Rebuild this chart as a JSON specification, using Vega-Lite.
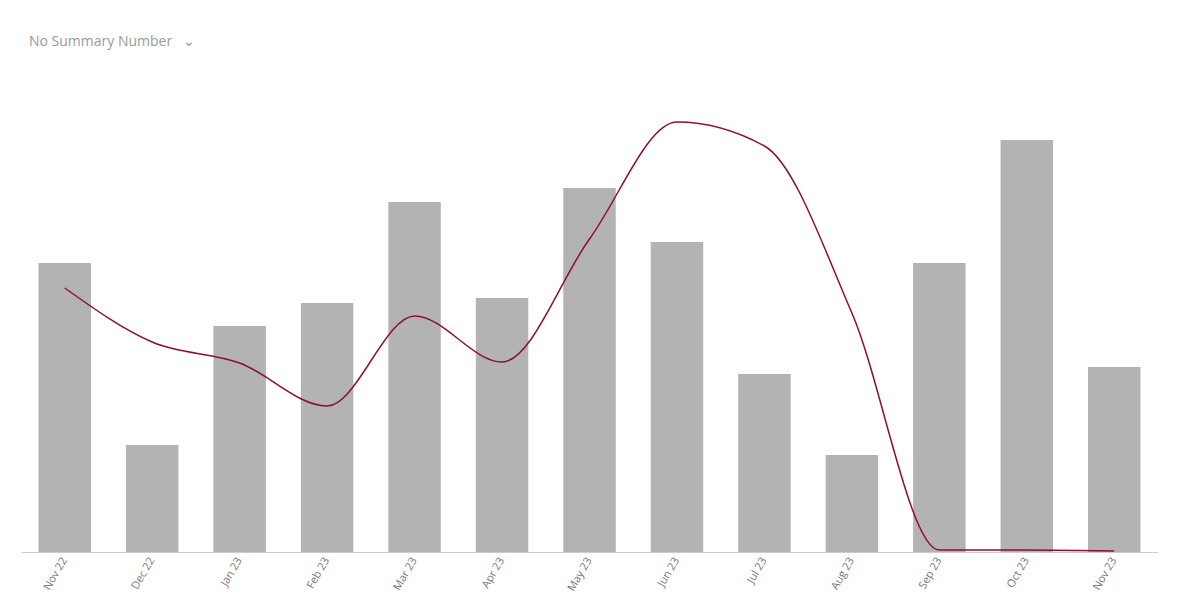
{
  "$schema": "https://vega.github.io/schema/vega-lite/v6.json",
  "width": 1137,
  "height": 472,
  "autosize": {"type": "none"},
  "padding": {"left": 21, "top": 80, "right": 27, "bottom": 56},
  "background": "white",
  "title": {
    "text": "No Summary Number\u00a0\u00a0\u00a0⌄",
    "anchor": "start",
    "dx": 8,
    "offset": 31,
    "font": "Open Sans",
    "fontSize": 14,
    "fontWeight": "normal",
    "color": "#9a9a9a"
  },
  "config": {"view": {"stroke": null}},
  "data": {
    "values": [
      {"month": "Nov 22", "bar": 289, "line": 264},
      {"month": "Dec 22", "bar": 107, "line": 210},
      {"month": "Jan 23", "bar": 226, "line": 189},
      {"month": "Feb 23", "bar": 249, "line": 146},
      {"month": "Mar 23", "bar": 350, "line": 236},
      {"month": "Apr 23", "bar": 254, "line": 190},
      {"month": "May 23", "bar": 364, "line": 313},
      {"month": "Jun 23", "bar": 310, "line": 430},
      {"month": "Jul 23", "bar": 178, "line": 406},
      {"month": "Aug 23", "bar": 97, "line": 239},
      {"month": "Sep 23", "bar": 289, "line": 2},
      {"month": "Oct 23", "bar": 412, "line": 2},
      {"month": "Nov 23", "bar": 185, "line": 1}
    ]
  },
  "encoding": {
    "x": {
      "field": "month",
      "type": "nominal",
      "sort": null,
      "scale": {"paddingInner": 0.4, "paddingOuter": 0.2},
      "axis": {
        "title": null,
        "labelAngle": -60,
        "labelFont": "Open Sans",
        "labelFontSize": 11,
        "labelColor": "#777777",
        "labelPadding": 6,
        "ticks": false,
        "domainColor": "#cccccc",
        "domainWidth": 1
      }
    }
  },
  "layer": [
    {
      "mark": {"type": "bar", "color": "#b3b3b3"},
      "encoding": {
        "y": {"field": "bar", "type": "quantitative", "scale": {"domain": [0, 472], "nice": false}, "axis": null}
      }
    },
    {
      "mark": {"type": "line", "color": "#8c0f32", "strokeWidth": 1.5, "interpolate": "monotone"},
      "encoding": {
        "y": {"field": "line", "type": "quantitative", "scale": {"domain": [0, 472], "nice": false}, "axis": null}
      }
    }
  ]
}
